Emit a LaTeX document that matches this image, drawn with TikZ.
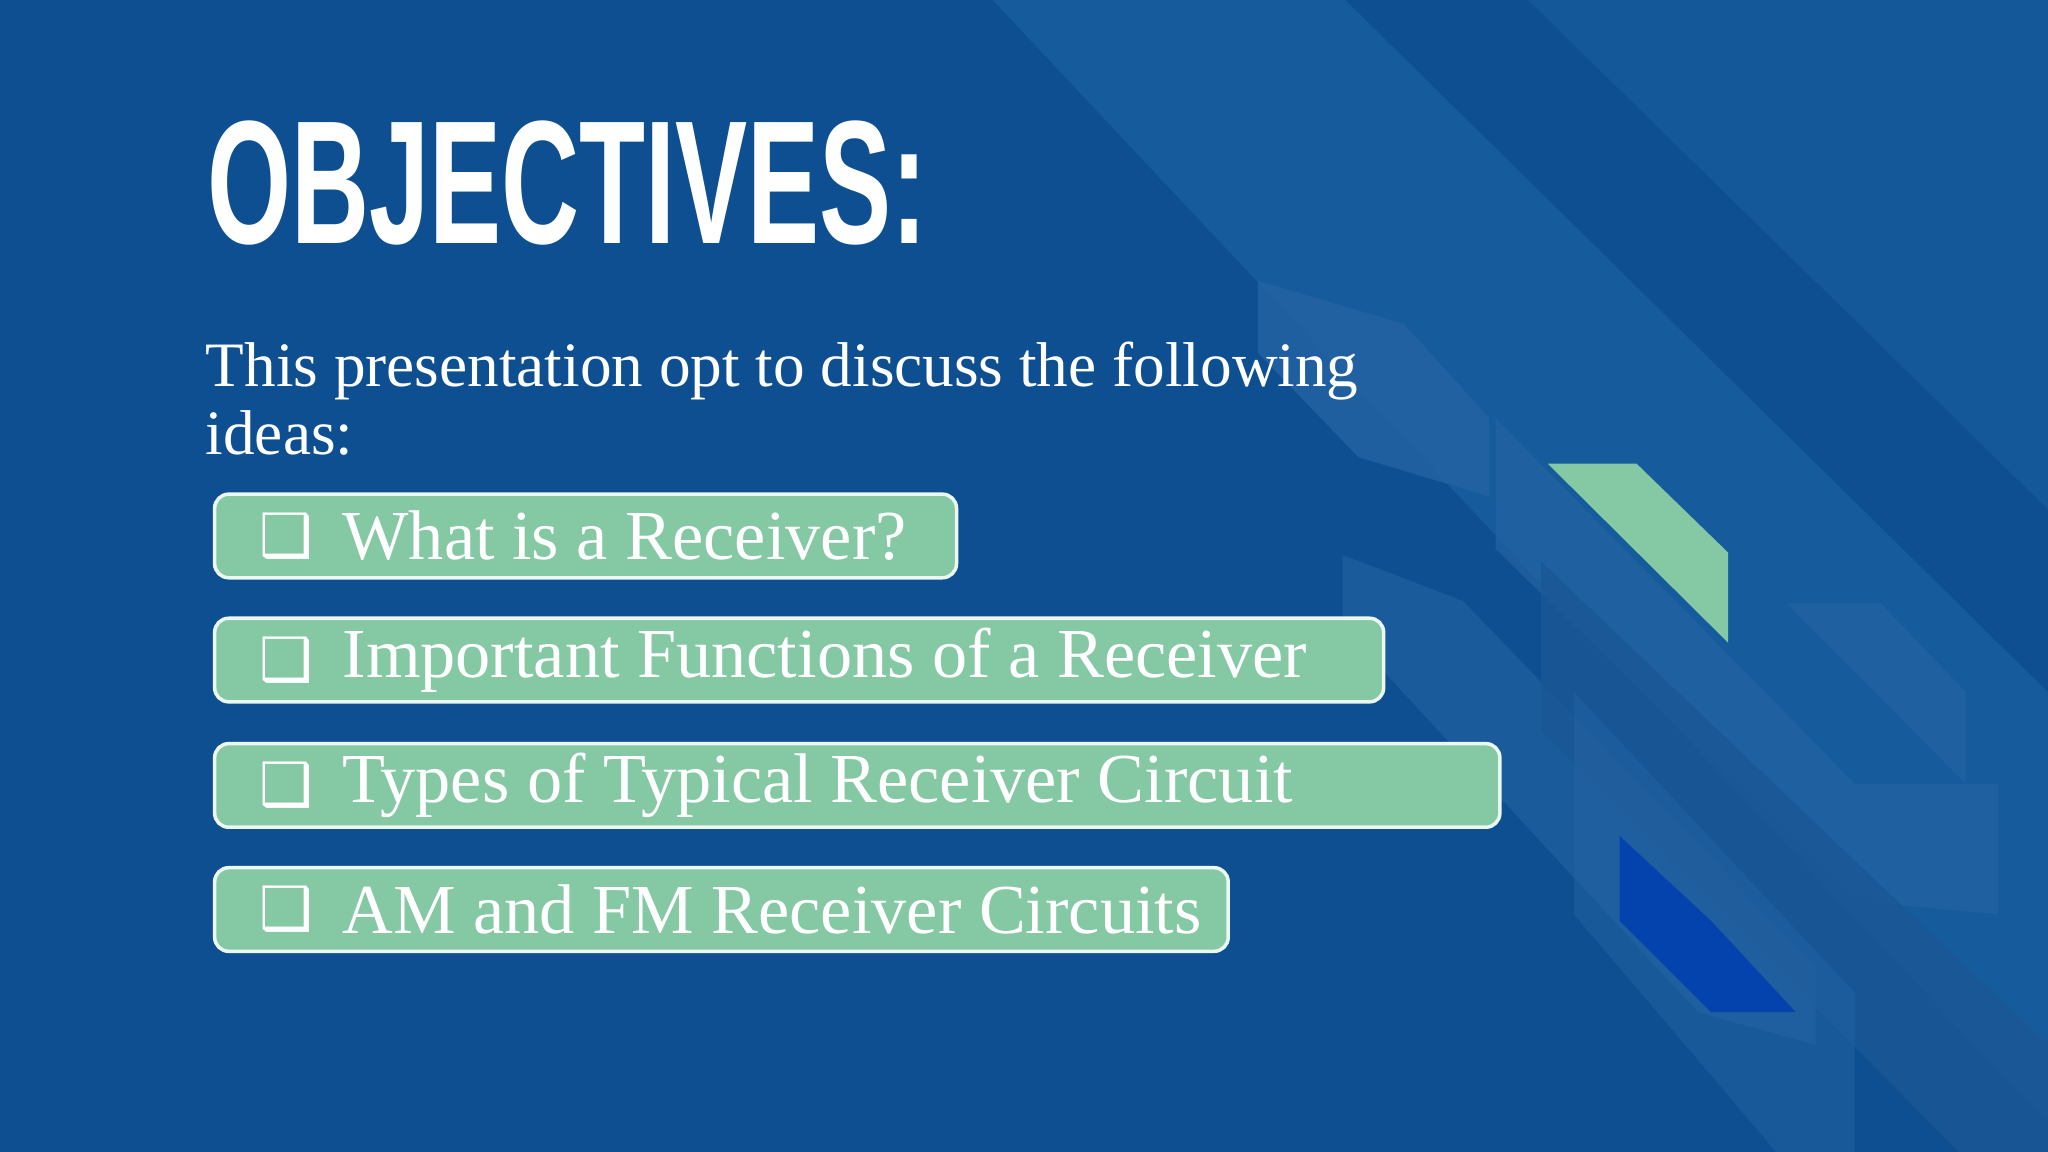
\documentclass[tikz,border=0pt]{standalone}
\usepackage{fontspec}
\setmainfont{Liberation Serif}
\newfontfamily\titlefont{Liberation Sans}
\newfontfamily\symfont{DejaVu Sans}
\definecolor{bg}{HTML}{0D4F91}
\definecolor{band}{HTML}{165B9B}
\definecolor{tile}{HTML}{2463A3}
\definecolor{tiledark}{HTML}{1A5796}
\definecolor{boxgreen}{HTML}{84C8A4}
\definecolor{brightblue}{HTML}{0443AE}
\tikzset{
 item/.style={draw=white!85!boxgreen, line width=1pt, fill=boxgreen, rounded corners=4pt, anchor=north west, minimum height=0.836cm, inner sep=0pt},
 itemtext/.style={anchor=west, text=white, font=\fontsize{20}{24}\selectfont, inner sep=0pt},
 tick/.style={anchor=center, text=white, font=\symfont\fontsize{17}{20}\selectfont, inner sep=0pt}
}
\begin{document}
\begin{tikzpicture}[x=0.013061cm,y=-0.013061cm]
\fill[bg] (0,0) rectangle (1568,882);
\useasboundingbox (0,0) rectangle (1568,882);
% decorative bands
\fill[band] (760,0) -- (1030,0) -- (1568,530) -- (1568,860) -- cycle;
\fill[band!80!bg] (1170,0) -- (1568,0) -- (1568,390) -- cycle;
\fill[tile,opacity=0.8] (963,215) -- (1075,248) -- (1140,320) -- (1140,380) -- (1040,350) -- (963,270) -- cycle;
\fill[tile,opacity=0.7] (1145,320) -- (1420,600) -- (1530,600) -- (1530,700) -- (1420,690) -- (1145,420) -- cycle;
\fill[tile,opacity=0.6] (1028,425) -- (1120,460) -- (1390,740) -- (1390,800) -- (1300,775) -- (1028,480) -- cycle;
\fill[tile,opacity=0.7] (1368,462) -- (1440,462) -- (1505,530) -- (1505,600) -- cycle;
\fill[tiledark,opacity=0.8] (1180,430) -- (1568,800) -- (1568,882) -- (1500,882) -- (1180,560) -- cycle;
\fill[tile,opacity=0.5] (1205,530) -- (1420,760) -- (1420,882) -- (1360,882) -- (1205,700) -- cycle;
\fill[brightblue] (1240,640) -- (1310,705) -- (1375,775) -- (1310,775) -- (1240,705) -- cycle;
\fill[boxgreen] (1185,355) -- (1253,355) -- (1323,423) -- (1323,492) -- cycle;
% title
\node[anchor=west, inner sep=0pt, text=white] (title) at (158,140)
 {\titlefont\bfseries\fontsize{50}{50}\selectfont\scalebox{0.615}[1]{OBJECTIVES:}};
\node[anchor=north west, inner sep=0pt, text=white, align=left, font=\fontsize{18}{19.5}\selectfont] (intro) at (157,261)
 {This presentation opt to discuss the following\\ideas:};
% items
\foreach \n/\y/\w/\t in {a/377/568/{What is a Receiver?},
  b/472/895/{Important Functions of a Receiver},
  c/568/984/{Types of Typical Receiver Circuit},
  d/663/776/{AM and FM Receiver Circuits}}{
  \node[item, minimum width=\w*0.013061cm] (box\n) at (163,\y) {};
  \node[tick] (tick\n) at ([xshift=0.73cm]box\n.west) {❑};
  \node[itemtext] (txt\n) at ([xshift=1.29cm]box\n.west) {\t};
}
\end{tikzpicture}
\end{document}
